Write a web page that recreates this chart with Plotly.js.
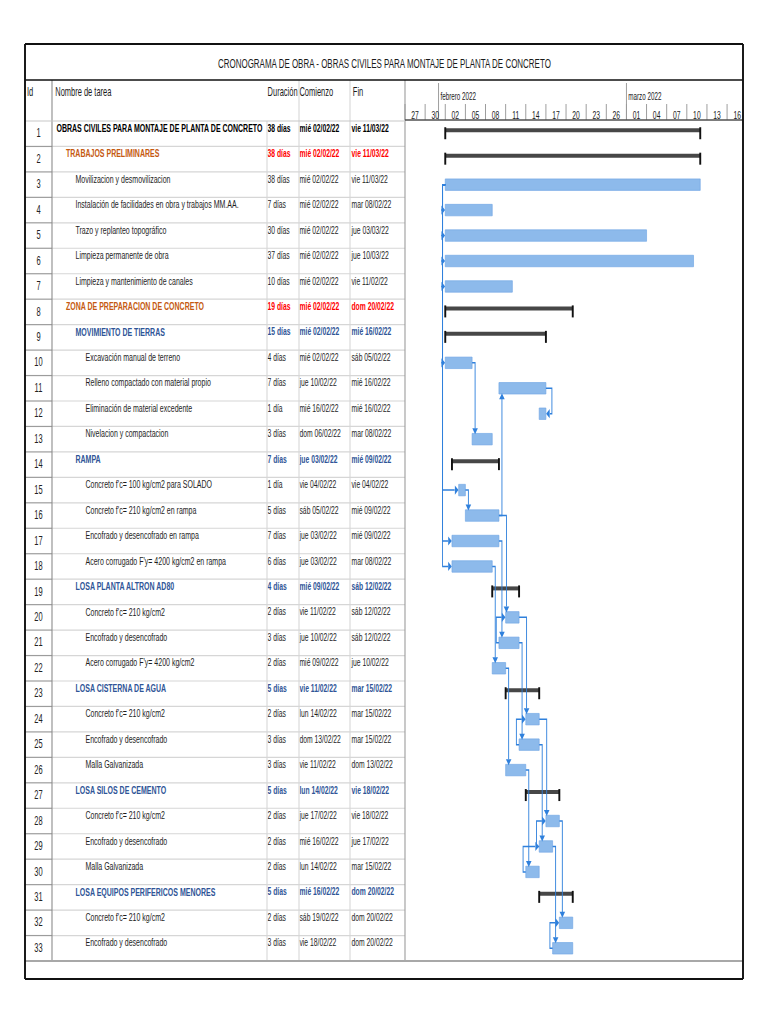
<!DOCTYPE html>
<html><head><meta charset="utf-8">
<script src="https://cdn.plot.ly/plotly-3.0.1.min.js"></script>
<style>
html,body{margin:0;padding:0;overflow:hidden;background:#fff;width:768px;height:1024px}
#wrap{width:768px;height:1024px;overflow:hidden;position:relative}
#chart{width:1280px;height:1024px;transform:scaleX(0.6);transform-origin:0 0}
</style></head><body><div id="wrap"><div id="chart"></div></div>
<script>
// ---------------- DATA ----------------
const ids = [1,2,3,4,5,6,7,8,9,10,11,12,13,14,15,16,17,18,19,20,21,22,23,24,25,26,27,28,29,30,31,32,33];
const taskNames = [
 "OBRAS CIVILES PARA MONTAJE DE PLANTA DE CONCRETO",
 "TRABAJOS PRELIMINARES",
 "Movilizacion y desmovilizacion",
 "Instalación de facilidades en obra y trabajos MM.AA.",
 "Trazo y replanteo topográfico",
 "Limpieza permanente de obra",
 "Limpieza y mantenimiento de canales",
 "ZONA DE PREPARACION DE CONCRETO",
 "MOVIMIENTO DE TIERRAS",
 "Excavación manual de terreno",
 "Relleno compactado con material propio",
 "Eliminación de material excedente",
 "Nivelacion y compactacion",
 "RAMPA",
 "Concreto f'c= 100 kg/cm2 para SOLADO",
 "Concreto f'c= 210 kg/cm2 en rampa",
 "Encofrado y desencofrado en rampa",
 "Acero corrugado F'y= 4200 kg/cm2 en rampa",
 "LOSA PLANTA ALTRON AD80",
 "Concreto f'c= 210 kg/cm2",
 "Encofrado y desencofrado",
 "Acero corrugado F'y= 4200 kg/cm2",
 "LOSA CISTERNA DE AGUA",
 "Concreto f'c= 210 kg/cm2",
 "Encofrado y desencofrado",
 "Malla Galvanizada",
 "LOSA SILOS DE CEMENTO",
 "Concreto f'c= 210 kg/cm2",
 "Encofrado y desencofrado",
 "Malla Galvanizada",
 "LOSA EQUIPOS PERIFERICOS MENORES",
 "Concreto f'c= 210 kg/cm2",
 "Encofrado y desencofrado"
];
const levels = [0,1,2,2,2,2,2,1,2,3,3,3,3,2,3,3,3,3,2,3,3,3,2,3,3,3,2,3,3,3,2,3,3];
const kinds = ['top','group','task','task','task','task','task','group','sub','task','task','task','task','sub','task','task','task','task','sub','task','task','task','sub','task','task','task','sub','task','task','task','sub','task','task'];
const durations = [38,38,38,7,30,37,10,19,15,4,7,1,3,7,1,5,7,6,4,2,3,2,5,2,3,3,5,2,2,2,5,2,3];
const durationLabels = ['38 días','38 días','38 días','7 días','30 días','37 días','10 días','19 días','15 días','4 días','7 días','1 día','3 días','7 días','1 día','5 días','7 días','6 días','4 días','2 días','3 días','2 días','5 días','2 días','3 días','3 días','5 días','2 días','2 días','2 días','5 días','2 días','3 días'];
const startDates = ['2022-02-02','2022-02-02','2022-02-02','2022-02-02','2022-02-02','2022-02-02','2022-02-02','2022-02-02','2022-02-02','2022-02-02','2022-02-10','2022-02-16','2022-02-06','2022-02-03','2022-02-04','2022-02-05','2022-02-03','2022-02-03','2022-02-09','2022-02-11','2022-02-10','2022-02-09','2022-02-11','2022-02-14','2022-02-13','2022-02-11','2022-02-14','2022-02-17','2022-02-16','2022-02-14','2022-02-16','2022-02-19','2022-02-18'];
const startLabels = ['mié 02/02/22','mié 02/02/22','mié 02/02/22','mié 02/02/22','mié 02/02/22','mié 02/02/22','mié 02/02/22','mié 02/02/22','mié 02/02/22','mié 02/02/22','jue 10/02/22','mié 16/02/22','dom 06/02/22','jue 03/02/22','vie 04/02/22','sáb 05/02/22','jue 03/02/22','jue 03/02/22','mié 09/02/22','vie 11/02/22','jue 10/02/22','mié 09/02/22','vie 11/02/22','lun 14/02/22','dom 13/02/22','vie 11/02/22','lun 14/02/22','jue 17/02/22','mié 16/02/22','lun 14/02/22','mié 16/02/22','sáb 19/02/22','vie 18/02/22'];
const endLabels = ['vie 11/03/22','vie 11/03/22','vie 11/03/22','mar 08/02/22','jue 03/03/22','jue 10/03/22','vie 11/02/22','dom 20/02/22','mié 16/02/22','sáb 05/02/22','mié 16/02/22','mié 16/02/22','mar 08/02/22','mié 09/02/22','vie 04/02/22','mié 09/02/22','mié 09/02/22','mar 08/02/22','sáb 12/02/22','sáb 12/02/22','sáb 12/02/22','jue 10/02/22','mar 15/02/22','mar 15/02/22','mar 15/02/22','dom 13/02/22','vie 18/02/22','vie 18/02/22','jue 17/02/22','mar 15/02/22','dom 20/02/22','dom 20/02/22','dom 20/02/22'];
const linkFrom = [3,3,3,3,3,3,3,3,10,11,15,16,16,17,18,21,22,20,21,25,24,25,26,29,30,28,29,33];
const linkTo   = [4,5,6,7,10,15,17,18,13,12,16,11,20,21,22,20,26,24,25,24,28,29,30,28,29,32,33,32];
const linkType = ['SS','SS','SS','SS','SS','SS','SS','SS','FS','FF','FS','FS','FS','FS','FS','SS','FS','FS','FS','SS','FS','FS','FS','SS','SS','FS','FS','SS'];
const monthStarts = ['2022-02-01','2022-03-01'];
const monthLabels = ['febrero 2022','marzo 2022'];
const dayTickLabels = ['27','30','02','05','08','11','14','17','20','23','26','01','04','07','10','13','16'];
const headerLabels = ['Id','Nombre de tarea','Duración','Comienzo','Fin'];
const chartTitle = 'CRONOGRAMA DE OBRA - OBRAS CIVILES PARA MONTAJE DE PLANTA DE CONCRETO';

// ---------------- GEOMETRY (final page px) ----------------
const FW=768, FH=1024, SX=0.6;
const PX=x=>x/FW, PY=y=>1-y/FH;
const FR_L=25, FR_R=743, FR_T=44, FR_B=979, TITLE_B=80;
const G_L=405, G_R=743, G_T=121, G_B=961;
const COL_ID=52, COL_DUR=267, COL_START=299, COL_END=350;
const NROW=ids.length, ROWPX=(G_B-G_T)/NROW;
const PPD=6.71, DAY=86400000, CELL_DAYS=3;
const T0=Date.UTC(2022,0,27);
const T1=T0+(G_R-G_L)/PPD*DAY;
const dxp=p=>p/PPD*DAY, dyp=p=>p/ROWPX;
const iso=ms=>new Date(ms).toISOString().slice(0,23).replace('T',' ');
const ms=s=>{const a=s.split('-').map(Number);return Date.UTC(a[0],a[1]-1,a[2]);};
const FONT="'Liberation Sans', Arial, sans-serif";

const startMs=startDates.map(ms);
const endMs=startMs.map((s,i)=>s+durations[i]*DAY);
// timescale cells: each label sits in the middle of its 3-day cell
const dayTickCenters=dayTickLabels.map((_,k)=>iso(T0+(k*CELL_DAYS+CELL_DAYS/2)*DAY));

const traces=[];
// task bars
const leaf=[]; kinds.forEach((k,i)=>{if(k==='task')leaf.push(i);});
traces.push({type:'bar',orientation:'h',xaxis:'x',yaxis:'y',
  y:leaf.map(i=>ids[i]), x:leaf.map(i=>durations[i]*DAY), base:leaf.map(i=>iso(startMs[i])),
  width:dyp(11.5), marker:{color:'#8DBAEB',line:{color:'#6FA6E4',width:0.8}}, hoverinfo:'skip'});

// summary bars
const sx=[],sy=[],tx=[],ty=[];
kinds.forEach((k,i)=>{ if(k==='task')return;
  const yl=ids[i]-dyp(3.5);
  sx.push(iso(startMs[i]),iso(endMs[i]),null); sy.push(yl,yl,null);
  [startMs[i],endMs[i]].forEach(t=>{tx.push(iso(t),iso(t),null); ty.push(yl-dyp(3),yl+dyp(9),null);});
});
traces.push({type:'scatter',mode:'lines',xaxis:'x',yaxis:'y',x:sx,y:sy,line:{color:'#474747',width:4},hoverinfo:'skip'});
traces.push({type:'scatter',mode:'lines',xaxis:'x',yaxis:'y',x:tx,y:ty,line:{color:'#111',width:3.2},hoverinfo:'skip'});

// links
const lx=[],ly=[],ax=[],ay=[],asym=[];
const LC='#2F80DC';
linkFrom.forEach((f,k)=>{
  const p=f-1, s=linkTo[k]-1, t=linkType[k];
  const yp=ids[p], ys=ids[s];
  if(t==='FS'){
    const xv=Math.max(endMs[p]+dxp(3), startMs[s]+dxp(0.8));
    const down=ys>yp;
    const yEdge= down? ys-dyp(5.75) : ys+dyp(5.75);
    const yStop= down? yEdge-dyp(5) : yEdge+dyp(5);
    lx.push(iso(endMs[p]),iso(xv),iso(xv),null); ly.push(yp,yp,yStop,null);
    ax.push(iso(xv)); ay.push(down? yEdge-dyp(3.2): yEdge+dyp(3.2)); asym.push(down?'triangle-down':'triangle-up');
  } else if(t==='SS'){
    const xv=startMs[p]-dxp(2.7);
    lx.push(iso(startMs[p]),iso(xv),iso(xv),iso(startMs[s]-dxp(4)),null); ly.push(yp,yp,ys,ys,null);
    ax.push(iso(startMs[s]-dxp(2.6))); ay.push(ys); asym.push('triangle-right');
  } else {
    const xv=Math.max(endMs[p],endMs[s])+dxp(6);
    lx.push(iso(endMs[p]),iso(xv),iso(xv),iso(endMs[s]+dxp(4)),null); ly.push(yp,yp,ys,ys,null);
    ax.push(iso(endMs[s]+dxp(2.6))); ay.push(ys); asym.push('triangle-left');
  }
});
traces.push({type:'scatter',mode:'lines',xaxis:'x',yaxis:'y',x:lx,y:ly,line:{color:LC,width:1.5},hoverinfo:'skip'});
traces.push({type:'scatter',mode:'markers',xaxis:'x',yaxis:'y',x:ax,y:ay,marker:{symbol:asym,size:8,color:LC,line:{width:0}},hoverinfo:'skip'});

// carriers for the timescale axes
traces.push({type:'scatter',mode:'markers',xaxis:'x2',yaxis:'y',x:monthStarts,y:monthStarts.map(()=>null),hoverinfo:'skip'});
traces.push({type:'scatter',mode:'markers',xaxis:'x4',yaxis:'y',x:dayTickCenters,y:dayTickCenters.map(()=>null),hoverinfo:'skip'});

// table text
const NAME_X=[56.5,66,75.5,85.5];
const styleColor={top:['#000','#000'],group:['#C55A11','#FF0000'],sub:['#2F5597','#2F5597'],task:['#1e1e1e','#1e1e1e']};
const B=(s,i)=>kinds[i]==='task'?s:'<b>'+s+'</b>';
const yText=ids.map(r=>r-dyp(4.7));
function textTrace(xp,yv,texts,colors,size,pos){
  return {type:'scatter',mode:'text',xaxis:'x3',yaxis:'y',x:xp,y:yv,text:texts,textposition:pos,
    textfont:{family:FONT,size:size,color:colors},hoverinfo:'skip',cliponaxis:false};
}
traces.push(textTrace(ids.map(()=>(FR_L+COL_ID)/2), ids.map(r=>r+dyp(0.5)), ids.map(String), ids.map(()=>'#222'), 12.5,'middle center'));
traces.push(textTrace(levels.map(l=>NAME_X[l]), yText, taskNames.map(B), kinds.map(k=>styleColor[k][0]), 11.7,'middle right'));
traces.push(textTrace(ids.map(()=>COL_DUR+0.5), yText, durationLabels.map(B), kinds.map(k=>styleColor[k][1]), 11.3,'middle right'));
traces.push(textTrace(ids.map(()=>COL_START+0.5), yText, startLabels.map(B), kinds.map(k=>styleColor[k][1]), 11.3,'middle right'));
traces.push(textTrace(ids.map(()=>COL_END+1.5), yText, endLabels.map(B), kinds.map(k=>styleColor[k][1]), 11.3,'middle right'));

// ---------------- SHAPES ----------------
const shapes=[];
const hl=(x0,x1,y,c,w)=>shapes.push({type:'line',xref:'paper',yref:'paper',x0:PX(x0),x1:PX(x1),y0:PY(y),y1:PY(y),line:{color:c,width:w}});
const vl=(x,y0,y1,c,w)=>shapes.push({type:'line',xref:'paper',yref:'paper',x0:PX(x),x1:PX(x),y0:PY(y0),y1:PY(y1),line:{color:c,width:w}});
for(let k=1;k<NROW;k++){
  shapes.push({type:'line',xref:'paper',yref:'y',x0:PX(FR_L),x1:PX(COL_ID),y0:k+0.5,y1:k+0.5,line:{color:'#9c9c9c',width:1.2}});
  shapes.push({type:'line',xref:'paper',yref:'y',x0:PX(COL_ID),x1:PX(G_L),y0:k+0.5,y1:k+0.5,line:{color:'#d6d6d6',width:1.2}});
}
vl(COL_DUR,G_T,G_B,'#d6d6d6',1.8);
vl(COL_START,TITLE_B,G_B,'#d6d6d6',1.8);
vl(COL_END,TITLE_B,G_B,'#d6d6d6',1.8);
vl(COL_ID,TITLE_B,G_B,'#8a8a8a',1.8);
vl(G_L,TITLE_B,G_B,'#9a9a9a',1.8);
hl(FR_L,G_L,G_T,'#c8c8c8',1.2);
hl(G_L,G_R,G_T-1,'#505050',1.6);
hl(FR_L,FR_R,G_B,'#a8a8a8',2);
hl(FR_L,FR_R,TITLE_B,'#111',1.6);
hl(FR_L,FR_R,FR_T,'#111',2);
hl(FR_L,FR_R,FR_B,'#111',2);
vl(FR_L,FR_T,FR_B,'#111',3.2);
vl(FR_R,FR_T,FR_B,'#111',3.2);

// ---------------- ANNOTATIONS ----------------
const annotations=[];
annotations.push({xref:'paper',yref:'paper',x:PX((FR_L+FR_R)/2),y:PY(63),text:chartTitle,showarrow:false,xanchor:'center',yanchor:'middle',font:{family:FONT,size:13.3,color:'#1a1a1a'}});
const hdrX=[27,55,267.5,299.5,352.5];
headerLabels.forEach((h,i)=>annotations.push({xref:'paper',yref:'paper',x:PX(hdrX[i]),y:PY(92),text:h,showarrow:false,xanchor:'left',yanchor:'middle',xshift:-2,font:{family:FONT,size:12.5,color:'#1a1a1a'}}));
monthStarts.forEach((m,i)=>annotations.push({xref:'x',yref:'paper',x:m,y:PY(96),text:monthLabels[i],showarrow:false,xanchor:'left',yanchor:'middle',xshift:1,font:{family:FONT,size:10.5,color:'#1a1a1a'}}));

const dateAxisBase={type:'date',domain:[PX(G_L),PX(G_R)],range:[iso(T0),iso(T1)],anchor:'y',side:'top',
  showgrid:false,zeroline:false,showline:false,fixedrange:true};
const layout={
  width:FW/SX, height:FH, margin:{l:0,r:0,t:0,b:0,pad:0},
  paper_bgcolor:'#fff', plot_bgcolor:'rgba(0,0,0,0)', showlegend:false, barmode:'overlay',
  font:{family:FONT,color:'#1a1a1a'},
  xaxis:Object.assign({},dateAxisBase,{tickmode:'linear',tick0:iso(T0),dtick:CELL_DAYS*DAY,
    ticks:'outside',ticklen:16,tickwidth:1.6,tickcolor:'#9a9a9a',showticklabels:false}),
  xaxis2:Object.assign({},dateAxisBase,{overlaying:'x',tickmode:'array',tickvals:monthStarts,
    ticks:'outside',ticklen:37,tickwidth:1.6,tickcolor:'#9a9a9a',showticklabels:false}),
  xaxis4:Object.assign({},dateAxisBase,{overlaying:'x',tickmode:'array',tickvals:dayTickCenters,ticktext:dayTickLabels,
    ticks:'',ticklabelstandoff:-1,tickfont:{family:FONT,size:11.3,color:'#1a1a1a'}}),
  xaxis3:{domain:[PX(FR_L),PX(G_L)],range:[FR_L,G_L],anchor:'y',visible:false,fixedrange:true},
  yaxis:{domain:[PY(G_B),PY(G_T)],range:[NROW+0.5,0.5],anchor:'x',visible:false,fixedrange:true},
  shapes:shapes, annotations:annotations
};
Plotly.newPlot('chart',traces,layout,{displayModeBar:false,staticPlot:true});
</script></body></html>
